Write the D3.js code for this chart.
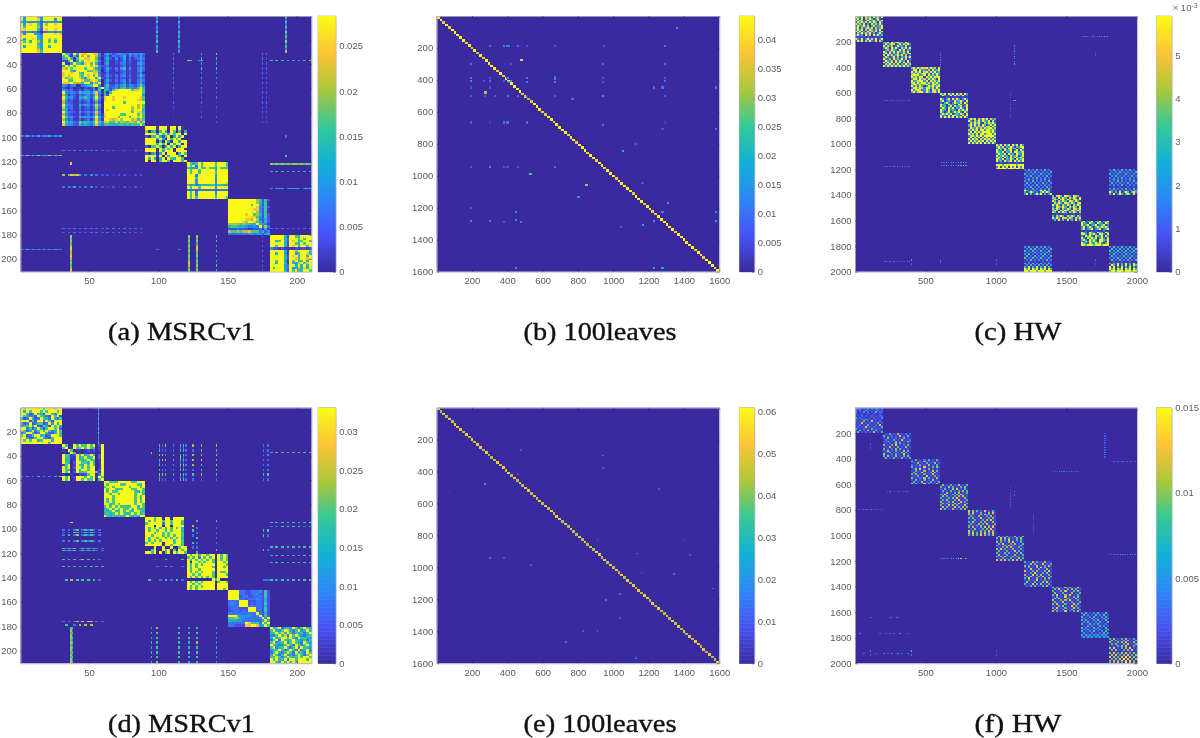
<!DOCTYPE html>
<html>
<head>
    <meta charset="UTF-8">
    <script src="https://d3js.org/d3.v7.min.js"></script>
    <style>
        body { margin: 0; background: #fff; }
        svg { display: block; }
    </style>
</head>
<body>
    <svg id="chart"></svg>

    <script>
// DATA - digits 0..9, levelShare says how far up the colour bar each digit sits
    var levelShare = [0, 0.05, 0.13, 0.23, 0.34, 0.46, 0.58, 0.71, 0.85, 1];

    var a1 = "949999649999999 949999849999499 444444424444444 949899639799899 969999739999999 989999529899899 434434212344344 839994429999898 999999549999999 949989549979799 969599749969599 999999549999999 959999649959999 999999749999999 999999869999999";
    var a2 = "966295988998840353234432534353 694162979699731241322351423242 569516998899620352141251312353 216914969899731241121241311242 911496648969520351121341211453 596969999979842231111231211242 879699996997531252131461411353 999649999668740241121231211352 899899659998831131111231211241 897999769896941242131341311363 968799864899592131121221211242 996699986689850252131341411353 888977759938690241121241311352 431340134569940362242452432474 210201102124069452342563543695 532311313314260652689999968896 943432645536841516999999999996 741321423424830629999999999994 953421546425941899899989999986 841311423414730899899999999886 732211312312520999999969999999 953311535424850999999999999796 842311412313730999699999979796 641211312212620989999999979995 953321523424840999999999969886 742211312313731899999669999696 963421645435952899996999699896 742311312314841998789799978586 964532756546964886686776886948 854422645435853665555656566695";
    var a3 = "999919990990910 999919990990910 715606950960605 999939695969909 206695269059590 999949509696900 999906095099599 999959690969909 206696059590599 999909596909990 999919599909999 204605909990596 999919095999609 959505909659960 909906996099969";
    var a4 = "965696999969996 969396999969996 654496696649666 969969999959999 969969999969999 999399999949999 999699999949999 999499999939999 999499999949998 645346555636555 969969999949999 333233333323333 969399999949999 969399999959999 969699999969996";
    var a5 = "999999999976262 999999999975261 999999996995261 999999999984362 999999999884261 999999998974261 999999899675262 999999998864262 999999887973252 999998799865252 777767665595441 566555433439373 222322211223151 766767786663524 333333344344245";
    var a6 = "999995299659999 999995399969699 995695298956996 999995299659699 996995298959969 422121111212212 999995199799996 995994199469985 999995298959959 999995299869989 996994196956959 995995195489689 999994399595959 959994394575859 999995296965996";
    var blocksA = [[1, 30, 1, 30, a1], [31, 90, 31, 90, a2], [91, 120, 91, 120, a3], [121, 150, 121, 150, a4], [151, 180, 151, 180, a5], [181, 210, 181, 210, a6]];
    var stripesA = [
        ["v", 99, 1, 30, "536253625361536"], ["v", 115, 1, 30, "426352635263524"], ["v", 192, 1, 30, "736363746373637"],
        ["h", 99, 1, 30, "425242524352425"], ["h", 115, 1, 30, "637363736473637"], ["h", 192, 1, 30, "425252425242524"],
        ["v", 111, 31, 90, "303130413031413020103020101000"], ["v", 131, 31, 90, "506250613051304130203010203010"], ["v", 142, 31, 90, "706050613040304020301020103020"],
        ["v", 175, 31, 90, "303130303130302030203020302020"], ["v", 178, 31, 90, "302030302030302020203020302020"],
        ["h", 111, 31, 90, "303130303130302020201020102010"], ["h", 131, 31, 90, "706878503040302020102020102020"], ["h", 141, 31, 90, "304150303040202010201020102010"],
        ["h", 175, 31, 90, "303130303130302030303030303030"], ["h", 178, 31, 90, "203030302030302030203030302020"],
        ["h", 37, 181, 210, "606060505040507"], ["h", 122, 181, 210, "767676767767676"], ["h", 128, 181, 210, "505060505050505"], ["h", 142, 181, 210, "404550454540545"], ["h", 175, 181, 210, "303030302030303"],
        ["v", 37, 181, 210, "767678778767678"], ["v", 122, 181, 210, "767676767678767"], ["v", 128, 181, 210, "767578767576767"], ["v", 142, 181, 210, "606050605050605"], ["v", 175, 181, 210, "202020302030202"],
        ["v", 37, 121, 122, "8"], ["h", 37, 121, 124, "76"], ["h", 37, 129, 132, "46"], ["v", 192, 99, 100, "3"], ["v", 192, 115, 116, "6"], ["h", 192, 99, 100, "3"], ["h", 192, 115, 116, "3"]
    ];

    var dRows1 = "989999996999899 959699969699969 995239652996399 965342965329692 523952396539536 999262993962999 524923662394959 366959226529695 993625952699692 962593695963596 359962399632596 692369956239996 995236995326999 969699569995999 999999999969999";
    var dRows2 = "960096966969029 690196696966019 109601101212019 001960101111009 966129695696029 965119569569029 956019656966019 965029966596019 169019659696019 969029969699019 965019599699029 969029666999619 100100212699039 969029996969196 969019969669069";
    var dRows3 = "996669999966999 969999669999669 699699999699969 969966699966996 969669999996596 996996999996995 999699999996969 969699999996969 969699999996969 995696999996996 696969666699596 569696966969656 656956969659965 565696965696956 965656569656599";
    var dRows4 = "999699099099990 969699699699960 699999399699950 999099099099990 969696969696950 969969959699950 999699696999960 996999696969960 969969969696950 969696999969960 696999099969960 999999099699960 000900900900699 006900969060969 996909069096996";
    var dRows5 = "969969969909696 696939696909696 969696969609696 909969699609969 969696999909996 969699999609969 969969999909999 969696999609669 996969999609996 969696969609999 000000000969000 969696999906996 996969999909999 969696999909999 969699999909969";
    var dRows6 = "999933223334262 999933223342262 999923322333262 999933233343252 333399922233252 343399923233262 333399933333252 233322299933262 223323299933262 333333333393252 999644443349262 667744333334949 555443333333595 333333986663969 332222889984596";
    var dRows7 = "956935649636965 695469853694595 569685963656369 436968396964356 595699695396654 369396569654636 694569369653964 965346963964695 693569536939654 456963596393595 369536963956396 596369453696369 659636965696996 969569399699969 996496969699999";
    var blocksD = [[1, 30, 1, 30, dRows1], [31, 60, 31, 60, dRows2], [61, 90, 61, 90, dRows3], [91, 120, 91, 120, dRows4], [121, 150, 121, 150, dRows5], [151, 180, 151, 180, dRows6], [181, 210, 181, 210, dRows7]];
    var stripesD = [
        ["v", 57, 1, 30, "636363536363536"], ["h", 57, 1, 30, "304030503040607"],
        ["v", 95, 37, 38, "7"], ["v", 101, 31, 60, "636070636060736"], ["v", 103, 31, 60, "303070703030703"], ["v", 105, 31, 60, "703040703040603"], ["v", 111, 31, 60, "303050504030503"],
        ["v", 116, 31, 60, "636067637360636"], ["v", 118, 31, 60, "636063637360636"], ["v", 120, 31, 60, "303030304030303"], ["v", 125, 31, 60, "703070707030603"], ["v", 131, 31, 60, "606070806060703"], ["v", 142, 31, 60, "706070607060603"],
        ["v", 176, 31, 60, "303030303030603"], ["v", 179, 31, 60, "303040303030603"],
        ["h", 37, 181, 210, "506060706060606"],
        ["h", 95, 37, 38, "8"], ["h", 101, 31, 60, "303036036363030"], ["h", 103, 31, 60, "303066036363030"], ["h", 105, 31, 60, "306037036363030"], ["h", 110, 31, 60, "304036036363030"],
        ["h", 116, 31, 60, "636360363636303"], ["h", 118, 31, 60, "636360363636303"], ["h", 125, 31, 60, "606060370606030"], ["h", 131, 31, 60, "606060606060606"], ["h", 142, 31, 60, "060706060606030"], ["h", 176, 31, 60, "303037080870303"], ["h", 179, 31, 60, "060030707070000"],
        ["h", 95, 181, 210, "606060606060607"], ["h", 98, 181, 210, "303060606060304"], ["h", 115, 181, 210, "606060606060606"], ["h", 122, 181, 210, "505060605050605"], ["h", 128, 181, 210, "506060506060605"], ["h", 142, 181, 210, "605060606060606"],
        ["v", 95, 181, 210, "505050505050505"], ["v", 99, 181, 210, "706060606060607"], ["v", 115, 181, 210, "606060606060606"], ["v", 122, 181, 210, "505060505060505"], ["v", 128, 181, 210, "606060706060606"], ["v", 142, 181, 210, "404040405040404"],
        ["v", 37, 181, 210, "676776767767677"], ["v", 38, 181, 210, "636363636363636"],
        ["v", 125, 91, 120, "000706030060300"], ["v", 128, 91, 120, "060030306030306"], ["v", 142, 91, 120, "060030303030060"], ["v", 176, 91, 120, "000006060000060"], ["v", 179, 91, 120, "000006030000030"],
        ["h", 125, 91, 120, "000200060000060"], ["h", 131, 91, 120, "000030060300030"], ["h", 142, 91, 120, "060003060306030"], ["h", 142, 176, 180, "33"]
    ];

    var c1 = "96491968195829 49291849614921 93961493692849 19694829496193 94829161948293 29469381492649 69182694918369 39491829638291 94926193849269 18493849261493 49261938194926 21212121112121 94291493829149 29491839429184";
    var c2 = "64919489461940 39469814938694 92848139462913 49619493184929 14829641949163 96184929638291 49391648149369 81948369492814 39614928164939 94281946392814 29648193946192 92949194919294 18493829164938 94949494949484";
    var c3 = "69496989496819 38919463819469 94969289494936 69384994819694 89994691948394 96849919694989 49949683949619 94689949196849 89496994849694 69949489619948 94839614969489 39969849948394 94898349619849 69489949638949";
    var c4 = "94919491949194 29412919482913 11121112111211 94149192941494 69146219469419 41694149648194 96419462194419 94614919469149 49619491649419 96419464194949 94149149694194 49694914649619 94419199641949 92949491949294";
    var c5 = "49691849691846 96184939649182 18496921849694 69493819616949 49184969398194 19649384969948 84969199499694 49196949999694 96849199489949 38949694999994 29192919291929 94969184969484 49384969194969 92949491949294";
    var c6 = "94919491949194 69491649616499 49649199461649 94619469149194 96491649199469 49649194619649 94694619469149 49619649194694 96491649619469 94619469194949 11211121112111 99969989996999 49194919491949 89999699989969";
    var c7 = "31613161316131 13141613141316 61314131613141 14161314131613 31314161314131 13613131416131 41316141313161 16131413161314 31413161314131 13161314131613 41316131413161 96141613949161 61496141694961 49161494916149";
    var c8 = "61896198619861 86194961849619 49618949618949 96184961984961 18496198496189 94961849618496 61984961849619 84961849619849 49618496198496 96184961849618 11211121112112 61849618496184 94961984961849 16191619161916";
    var c9 = "69146914691469 96419641964196 94691469146914 49169416949694 69146914691469 11211212111211 96419641964196 99419694199419 41969419649194 94196949149419 69419694199649 41949694199419 96419649694169 99699969996999";
    var c10 = "41614161416141 16141614161416 61416141614161 14161416141614 41613141614131 16141316141613 31416131416131 16131614161316 11211121112111 61619161916191 19619161916196 91916191619161 96919691969196 69969996999699";
    var c11 = "31613161416131 13141613141316 61314131613141 14161314131613 41314161314131 13613131416131 41316141313161 16131413161314 31413161314131 11211211121121 41613141613161 16141613141316 94161914961694 61914961694191";
    var c12 = "41613161416131 13161613141316 61316131613161 14131613141613 41613131416131 16131613161316 61316141613141 13161314131613 11211211121121 61416141614161 14161416141614 61916191619161 96919691969196 99699969996999";
    var blocksC = [[1, 200, 1, 200, c1], [201, 400, 201, 400, c2], [401, 600, 401, 600, c3], [601, 800, 601, 800, c4], [801, 1000, 801, 1000, c5], [1001, 1200, 1001, 1200, c6], [1201, 1400, 1201, 1400, c7], [1401, 1600, 1401, 1600, c8], [1601, 1800, 1601, 1800, c9], [1801, 2000, 1801, 2000, c10], [1801, 2000, 1201, 1400, c11], [1201, 1400, 1801, 2000, c12]];
    var stripesC = [
        ["h", 156, 1610, 1800, "3040302050403050306030"], ["v", 603, 290, 400, "4030403040304"], ["v", 1130, 230, 390, "3030404060403050"],
        ["h", 660, 210, 400, "2030203020304030203030"], ["v", 1100, 600, 800, "2020302020302030203020"], ["h", 660, 1120, 1140, "5"],
        ["h", 1140, 610, 800, "4030503040503040306030"], ["h", 1170, 610, 800, "5030603060503070608060"], ["h", 1175, 210, 400, "3040203060302050304030"],
        ["h", 1920, 210, 400, "3020302040203040204040"], ["v", 400, 1900, 1960, "5030"], ["v", 603, 1910, 1930, "3"], ["v", 1000, 1900, 1970, "3020"], ["v", 1700, 280, 320, "2020"], ["v", 1700, 1900, 1960, "3020"]
    ];

    var f1 = "62412141314213 21312412121412 41214131216132 21121121121121 12131211312132 61312112131214 12131641213121 31216121812131 12181213121612 21312161213181 13121812131216 61213121613121 21612181216121 16121312171216";
    var f2 = "12161217121312 61213121812161 21712131216121 13121612181213 21612171213172 12131271612121 71216181213161 12171216121712 61213171612121 21812161217161 12161213171612 71213161218121 61712171216171 16121612161216";
    var f3 = "21612131612161 61213171213121 12171216121712 31216121712161 61213181216172 12718121612121 21612171218161 16121812161712 61712161218121 12161218121612 71213171612171 21612161217121 16121712161216 71612181612171";
    var f4 = "17121612171216 61217161216171 21612171812161 16121612161716 12171216171216 61812161718121 17161216171812 61216171812171 16171216181216 71216171218161 17161217181216 61218171612181 17161218161716 71612171216171";
    var f5 = "81716121812161 71812161217181 81612171816121 16121712161712 61712181216171 12161216171812 61812161712171 16121716181216 71216181216171 61712161817181 12171216171812 81612171618171 71816171816181 61716181716171";
    var f6 = "17121612171216 61817161216171 21716181216161 71612171812161 16181216171216 61217181612171 12161718121612 71816121712161 16121612181612 61217161216171 17121612171216 61718121716121 12161216121716 81718161817161";
    var f7 = "61218161217121 12171612181216 71612181216171 21612171816121 12181216121712 81216171216181 12161812161712 71218161712161 16171216181216 61812171216171 21612181216121 17121612171812 61218161712161 12161612161712";
    var f8 = "71612171612181 16181216171612 61216181216171 17121612171216 61812171812161 21612181216171 17181216121812 81216171812161 16121812161216 71812161218171 12161712181612 61812161218161 17121612171216 71612181216171";
    var f9 = "41612141612161 16141216141612 61214161214161 14121614121614 61612141612161 14161214161216 61216141612141 12161412161412 61412161412161 14161214161216 61214161214161 14121412141614 51525152515251 25152515251525";
    var f10 = "61712161712161 17161216171216 71216171812171 16171216181216 21216171812161 71812161718121 16171216171812 11211121112111 71816171816171 17181617181617 81716181918171 16171819181617 71816191819161 61718161918171";
    var blocksF = [[1, 200, 1, 200, f1], [201, 400, 201, 400, f2], [401, 600, 401, 600, f3], [601, 800, 601, 800, f4], [801, 1000, 801, 1000, f5], [1001, 1200, 1001, 1200, f6], [1201, 1400, 1201, 1400, f7], [1401, 1600, 1401, 1600, f8], [1601, 1800, 1601, 1800, f9], [1801, 2000, 1801, 2000, f10]];
    var stripesF = [
        ["h", 790, 1, 200, "3030203030203030402030"], ["h", 650, 210, 400, "0020300020203002030200"], ["h", 1175, 610, 800, "4030403050406070703060"],
        ["h", 1920, 1, 400, "0000300000200030203004020030"], ["v", 400, 1900, 1960, "6030"], ["h", 1760, 1, 400, "0030000000002002030200300020"],
        ["v", 1770, 200, 400, "2020302020203020403020"], ["v", 1130, 650, 700, "4020"], ["v", 1100, 620, 800, "2020202020202020"], ["h", 415, 1810, 2000, "2030203020302030402030"],
        ["h", 500, 1410, 1600, "3020304030302040304020"], ["h", 1145, 1810, 2000, "4030403050403040505050"], ["v", 1260, 830, 1000, "2020202020202020"],
        ["v", 110, 1900, 1960, "3020"], ["v", 1000, 1900, 1960, "2020"], ["v", 110, 280, 340, "2020"], ["h", 1640, 240, 340, "2020"], ["h", 1640, 110, 120, "2"]
    ];

    var diagB = "9989899999898979899998989999998878999889989999899899989989989998999998999899889999998999999899899989";
    var spotsB = [[1355, 69, 4], [298, 181, 3], [377, 181, 3], [395, 181, 4], [405, 181, 3], [456, 181, 3], [505, 181, 2], [664, 181, 2], [943, 181, 2], [1287, 181, 3],
        [187, 296, 3], [380, 296, 1], [415, 296, 2], [938, 296, 3], [1287, 296, 3], [475, 267, 8], [187, 385, 3], [187, 402, 4], [264, 400, 2], [298, 400, 3], [298, 385, 2], [377, 400, 2], [395, 385, 3], [400, 410, 3], [415, 400, 4],
        [505, 385, 3], [505, 405, 3], [664, 375, 3], [664, 390, 4], [664, 405, 3], [938, 385, 2], [938, 405, 2], [1287, 380, 2], [1287, 400, 3], [1226, 442, 3], [1273, 442, 3], [1575, 442, 3],
        [270, 473, 7], [187, 442, 2], [298, 442, 2], [187, 495, 2], [268, 495, 2], [325, 495, 2], [400, 495, 3], [456, 495, 3], [505, 495, 2], [664, 495, 2], [938, 495, 4], [1287, 495, 2], [764, 515, 3],
        [187, 661, 2], [298, 661, 1], [377, 661, 3], [395, 661, 3], [505, 661, 3], [938, 675, 3], [1287, 661, 1], [1273, 700, 2], [1575, 700, 3],
        [1120, 797, 2], [1050, 840, 5], [187, 937, 2], [298, 937, 4], [377, 937, 2], [395, 937, 2], [456, 937, 2], [664, 937, 3],
        [525, 985, 6], [843, 1051, 7], [798, 1128, 4], [1305, 1163, 4], [1160, 1037, 2], [187, 1197, 2], [298, 1197, 1], [443, 1222, 4], [1273, 1222, 4], [1575, 1222, 4],
        [187, 1280, 4], [298, 1280, 3], [377, 1285, 2], [443, 1270, 4], [470, 1285, 3], [1226, 1280, 4], [1575, 1280, 5], [1162, 1301, 5], [1038, 1312, 2], [443, 1574, 4], [1226, 1574, 4], [1273, 1574, 5]];

    var diagE = "8787878887878788787778787878787887878787878878787787878788787878787878787887878778787878787887878778";
    var spotsE = [[938, 296, 3], [938, 373, 2], [472, 260, 2], [458, 410, 2], [268, 473, 4], [66, 521, 1], [1255, 505, 2], [298, 936, 3], [377, 936, 2], [528, 980, 2], [906, 828, 3], [1396, 824, 1], [1430, 918, 2], [1128, 909, 2], [1340, 1036, 3], [1160, 1030, 1], [1562, 1128, 3], [1034, 1162, 3], [953, 1199, 3], [505, 1258, 1], [1034, 1312, 2], [826, 1395, 2], [906, 1395, 2], [730, 1464, 3], [1125, 1564, 3], [793, 909, 1], [906, 1130, 1], [405, 452, 1]];

    var ticksMsrcX = [50, 100, 150, 200];
    var ticksMsrcY = [20, 40, 60, 80, 100, 120, 140, 160, 180, 200];
    var ticksLeaves = [200, 400, 600, 800, 1000, 1200, 1400, 1600];
    var ticksHwX = [500, 1000, 1500, 2000];
    var ticksHwY = [200, 400, 600, 800, 1000, 1200, 1400, 1600, 1800, 2000];

    var barTicksA = [0, 0.005, 0.01, 0.015, 0.02, 0.025];
    var barTicksB = [0, 0.005, 0.01, 0.015, 0.02, 0.025, 0.03, 0.035, 0.04];
    var barTicksC = [0, 1, 2, 3, 4, 5];
    var barTicksD = [0, 0.005, 0.01, 0.015, 0.02, 0.025, 0.03];
    var barTicksE = [0, 0.01, 0.02, 0.03, 0.04, 0.05, 0.06];
    var barTicksF = [0, 0.005, 0.01, 0.015];

    var captions = ["(a) MSRCv1", "(b) 100leaves", "(c) HW", "(d) MSRCv1", "(e) 100leaves", "(f) HW"];

// LAYOUT
    var width = 1200, height = 738;
    var rowTop = [16, 407.7], rowBottom = [271.7, 663.3];
    var colLeft = [20.5, 436.7, 855], colRight = [311.5, 719.3, 1137];
    var barLeft = [318, 739.3, 1156.7], barRight = [335.7, 754.3, 1171.7];
    var captionX = [181.5, 600, 1018], captionY = [340, 732];
    var captionW = [147, 153, 87];

    var panels = [
        {row: 0, col: 0, n: 210, max: 0.0283, xt: ticksMsrcX, yt: ticksMsrcY, bar: barTicksA, blocks: blocksA, stripes: stripesA, thick: 1},
        {row: 0, col: 1, n: 1600, max: 0.0441, xt: ticksLeaves, yt: ticksLeaves, bar: barTicksB, diag: diagB, spots: spotsB, spot: 13},
        {row: 0, col: 2, n: 2000, max: 5.9, xt: ticksHwX, yt: ticksHwY, bar: barTicksC, blocks: blocksC, stripes: stripesC, thick: 8, exp: true},
        {row: 1, col: 0, n: 210, max: 0.0331, xt: ticksMsrcX, yt: ticksMsrcY, bar: barTicksD, blocks: blocksD, stripes: stripesD, thick: 1},
        {row: 1, col: 1, n: 1600, max: 0.0608, xt: ticksLeaves, yt: ticksLeaves, bar: barTicksE, diag: diagE, spots: spotsE, spot: 10},
        {row: 1, col: 2, n: 2000, max: 0.015, xt: ticksHwX, yt: ticksHwY, bar: barTicksF, blocks: blocksF, stripes: stripesF, thick: 8}
    ];

// parula, the first colour nudged to what the picture shows
    var parula = d3.scaleLinear()
        .domain([0, 1/7, 2/7, 3/7, 4/7, 5/7, 6/7, 1])
        .range(["#3a2c9f", "#4852f4", "#2d87f7", "#12b1d6", "#37c897", "#abc739", "#fec338", "#f9fb14"]);

    var svg = d3.select("#chart")
        .attr("width", width)
        .attr("height", height);

    var defs = svg.append("defs");
    defs.append("filter").attr("id", "soft").append("feGaussianBlur").attr("stdDeviation", 0.65);
    defs.append("filter").attr("id", "softText").append("feGaussianBlur").attr("stdDeviation", 0.3);

    svg.append("rect")
        .attr("width", width)
        .attr("height", height)
        .attr("fill", "#fff");

    function cellsOf(p) {
        var cells = [];
        function add(c0, c1, r0, r1, level) {
            if (level > 0) cells.push({c0: c0, c1: c1, r0: r0, r1: r1, level: level});
        }
        (p.blocks || []).forEach(function(b) {
            var rows = b[4].split(" ");
            var rh = (b[3] - b[2] + 1) / rows.length;
            rows.forEach(function(row, i) {
                var cw = (b[1] - b[0] + 1) / row.length;
                row.split("").forEach(function(ch, j) {
                    add(b[0] + j * cw, b[0] + (j + 1) * cw, b[2] + i * rh, b[2] + (i + 1) * rh, +ch);
                });
            });
        });
        (p.stripes || []).forEach(function(s) {
            var step = (s[3] - s[2] + 1) / s[4].length;
            s[4].split("").forEach(function(ch, j) {
                var a = s[2] + j * step, b = a + step;
                if (s[0] == "h") add(a, b, s[1], s[1] + p.thick, +ch);
                else add(s[1], s[1] + p.thick, a, b, +ch);
            });
        });
        if (p.diag) {
            p.diag.split("").forEach(function(ch, i) {
                add(i * 16 + 1, i * 16 + 17, i * 16 + 1, i * 16 + 17, +ch);
            });
        }
        (p.spots || []).forEach(function(s) {
            add(s[0], s[0] + p.spot, s[1], s[1] + p.spot, s[2]);
        });
        return cells;
    }

    function drawPanel(p, idx) {
        var left = colLeft[p.col], right = colRight[p.col];
        var top = rowTop[p.row], bottom = rowBottom[p.row];

        var x = d3.scaleLinear().domain([0.5, p.n + 0.5]).range([left, right]);
        var y = d3.scaleLinear().domain([0.5, p.n + 0.5]).range([top, bottom]);

        var g = svg.append("g");
        var plot = g.append("g").attr("filter", "url(#soft)");

        plot.append("rect")
            .attr("x", left)
            .attr("y", top)
            .attr("width", right - left)
            .attr("height", bottom - top)
            .attr("fill", parula(0));

        plot.selectAll("rect.cell")
            .data(cellsOf(p))
            .enter()
            .append("rect")
            .attr("class", "cell")
            .attr("x", function(d) { return x(d.c0 - 0.5); })
            .attr("y", function(d) { return y(d.r0 - 0.5); })
            .attr("width", function(d) { return x(d.c1) - x(d.c0); })
            .attr("height", function(d) { return y(d.r1) - y(d.r0); })
            .attr("shape-rendering", "crispEdges")
            .attr("fill", function(d) { return parula(levelShare[d.level]); });

        // box and inward ticks on all four sides
        var text = g.append("g").attr("filter", "url(#softText)");

        styleAxis(text.append("g")
            .attr("transform", `translate(0,${bottom})`)
            .call(d3.axisBottom(x).tickValues(p.xt).tickSizeInner(-2.5).tickSizeOuter(0).tickPadding(6).tickFormat(d3.format("d"))));
        styleAxis(text.append("g")
            .attr("transform", `translate(${left},0)`)
            .call(d3.axisLeft(y).tickValues(p.yt).tickSizeInner(-2.5).tickSizeOuter(0).tickPadding(3.5).tickFormat(d3.format("d"))));
        styleAxis(text.append("g")
            .attr("transform", `translate(0,${top})`)
            .call(d3.axisTop(x).tickValues(p.xt).tickSizeInner(-2.5).tickSizeOuter(0).tickFormat("")));
        styleAxis(text.append("g")
            .attr("transform", `translate(${right},0)`)
            .call(d3.axisRight(y).tickValues(p.yt).tickSizeInner(-2.5).tickSizeOuter(0).tickFormat("")));

        // colour bar
        var bl = barLeft[p.col], br = barRight[p.col];
        var v = d3.scaleLinear().domain([0, p.max]).range([bottom, top]);
        var steps = d3.range(64);

        g.append("g").selectAll("rect")
            .data(steps)
            .enter()
            .append("rect")
            .attr("x", bl)
            .attr("y", function(d) { return v((d + 1) / 64 * p.max); })
            .attr("width", br - bl)
            .attr("height", function(d) { return v(d / 64 * p.max) - v((d + 1) / 64 * p.max) + 0.5; })
            .attr("fill", function(d) { return parula((d + 0.5) / 64); });

        var fmt = function(d) { return d === 0 ? "0" : String(d); };
        var barAxis = text.append("g")
            .attr("transform", `translate(${br},0)`)
            .call(d3.axisRight(v).tickValues(p.bar).tickSizeInner(-2.5).tickSizeOuter(0).tickPadding(3.5).tickFormat(fmt));
        styleAxis(barAxis);

        text.append("rect")
            .attr("x", bl)
            .attr("y", top)
            .attr("width", br - bl)
            .attr("height", bottom - top)
            .attr("fill", "none")
            .attr("stroke", "#9a9aa0")
            .attr("stroke-width", 0.6);

        if (p.exp) {
            var t = text.append("text")
                .attr("x", br + 1)
                .attr("y", 11)
                .attr("fill", "#666")
                .attr("font-family", "'Liberation Sans'")
                .attr("font-size", 9.5);
            t.append("tspan").text("× 10");
            t.append("tspan").attr("font-size", 7).attr("dy", -3).text("-3");
        }

        // caption
        svg.append("text")
            .attr("x", captionX[p.col])
            .attr("y", captionY[p.row])
            .attr("text-anchor", "middle")
            .attr("textLength", captionW[p.col])
            .attr("lengthAdjust", "spacingAndGlyphs")
            .attr("font-family", "'Liberation Serif'")
            .attr("font-size", 25)
            .attr("fill", "#111")
            .attr("stroke", "#111")
            .attr("stroke-width", 0.35)
            .text(captions[idx]);
    }

    function styleAxis(sel) {
        sel.select(".domain")
            .attr("stroke", "#b4b4c4")
            .attr("stroke-width", 0.8);
        sel.selectAll(".tick line")
            .attr("stroke", "#333")
            .attr("stroke-width", 0.6);
        sel.selectAll(".tick text")
            .attr("fill", "#5a5a5a")
            .attr("font-family", "'Liberation Sans'")
            .attr("font-size", 9.5);
    }

    panels.forEach(drawPanel);
    </script>
</body>
</html>
